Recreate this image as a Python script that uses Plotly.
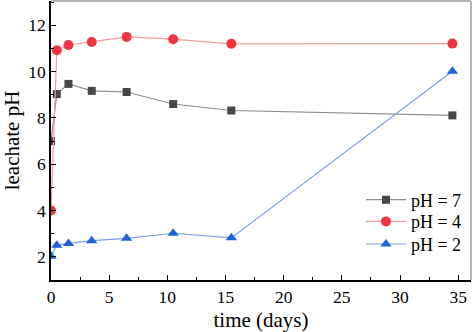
import plotly.graph_objects as go

days = [0, 0.5, 1.5, 3.5, 6.5, 10.5, 15.5, 34.5]
ph7 = [7.0, 9.03, 9.47, 9.17, 9.12, 8.6, 8.32, 8.11]
ph4 = [4.0, 10.92, 11.15, 11.28, 11.5, 11.4, 11.2, 11.21]
ph2 = [2.03, 2.5, 2.58, 2.7, 2.8, 3.02, 2.82, 10.02]

font = "Liberation Serif, Times New Roman, serif"

fig = go.Figure()
fig.add_trace(go.Scatter(x=days, y=ph7, name="pH = 7", mode="lines+markers", legend="legend",
                         line=dict(color="#8c8c8c", width=1.2),
                         marker=dict(symbol="square", size=8, color="#474747")))
fig.add_trace(go.Scatter(x=days, y=ph4, name="pH = 4", mode="lines+markers", legend="legend2",
                         line=dict(color="#f29a9e", width=1.2),
                         marker=dict(symbol="circle", size=10, color="#ec3540")))
fig.add_trace(go.Scatter(x=days, y=ph2, name="pH = 2", mode="lines+markers", legend="legend3",
                         line=dict(color="#7f9fe0", width=1.2),
                         marker=dict(symbol="triangle-up", size=10, color="#1f63d6")))

leg = dict(x=0.738, xanchor="left", yanchor="middle", bgcolor="rgba(0,0,0,0)",
           font=dict(size=18), itemwidth=40)

fig.update_layout(
    width=474, height=332,
    margin=dict(l=51, r=3, t=1, b=49),
    paper_bgcolor="white", plot_bgcolor="white",
    font=dict(family=font, size=17.5, color="black"),
    showlegend=True,
    legend=dict(leg, y=0.287),
    legend2=dict(leg, y=0.209),
    legend3=dict(leg, y=0.128),
    xaxis=dict(range=[0, 36.1], tickvals=[0, 5, 10, 15, 20, 25, 30, 35],
               ticks="inside", ticklen=5, tickwidth=1.2, tickcolor="black",
               minor=dict(dtick=2.5, ticks="inside", ticklen=3, tickcolor="black", tick0=0),
               showline=True, linecolor="black", linewidth=1.5,
               showgrid=False, zeroline=False,
               title=dict(text="time (days)", standoff=10)),
    yaxis=dict(range=[1, 13.05], tickvals=[2, 4, 6, 8, 10, 12],
               ticks="inside", ticklen=5, tickwidth=1.2, tickcolor="black",
               minor=dict(dtick=1, ticks="inside", ticklen=3, tickcolor="black", tick0=0),
               showline=True, linecolor="black", linewidth=1.5,
               showgrid=False, zeroline=False,
               title=dict(text="leachate pH", standoff=13)),
)
fig.add_shape(type="line", xref="paper", yref="paper", x0=0, x1=1, y0=1, y1=1,
              line=dict(color="#b5b5b5", width=2))
fig.add_shape(type="line", xref="paper", yref="paper", x0=1, x1=1, y0=0, y1=1,
              line=dict(color="#b5b5b5", width=2))

fig.write_html("out.html")
